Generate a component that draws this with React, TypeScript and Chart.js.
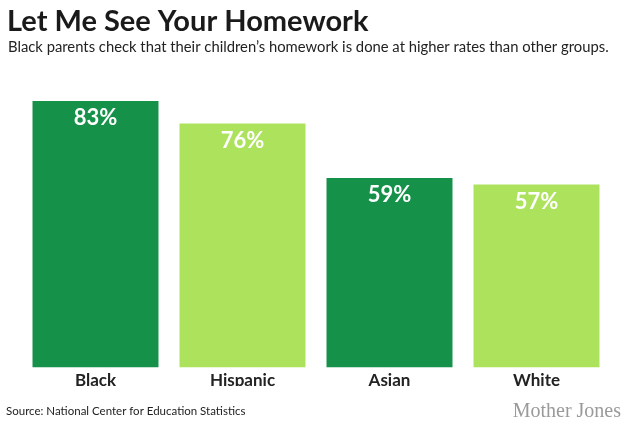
import React, { useEffect, useRef } from "react";
import { Chart, registerables } from "chart.js";

Chart.register(...registerables);

const categories = ["Black", "Hispanic", "Asian", "White"];
const values = [83, 76, 59, 57];
const barColors = ["#16914a", "#ade25d", "#16914a", "#ade25d"];
const titleText = "Let Me See Your Homework";
const subtitleText = "Black parents check that their children\u2019s homework is done at higher rates than other groups.";
const sourceText = "Source: National Center for Education Statistics";
const logoText = "Mother Jones";

const textPlugin = {
  id: "textPlugin",
  afterDatasetsDraw(chart: any) {
    const ctx = chart.ctx;
    const meta = chart.getDatasetMeta(0);
    ctx.save();
    ctx.fillStyle = "#ffffff";
    ctx.font = "bold 22px Lato";
    ctx.textAlign = "center";
    ctx.textBaseline = "middle";
    meta.data.forEach((bar: any, i: number) => {
      ctx.fillText(values[i] + "%", bar.x, bar.y + 17);
    });
    ctx.restore();
  },
  afterDraw(chart: any) {
    const ctx = chart.ctx;
    ctx.save();
    ctx.textBaseline = "alphabetic";
    ctx.textAlign = "left";
    ctx.fillStyle = "#1a1a1a";
    ctx.font = "bold 29px Lato";
    ctx.fillText(titleText, 7, 31);
    ctx.font = "14.8px Lato";
    ctx.fillStyle = "#222";
    ctx.fillText(subtitleText, 8, 52);
    ctx.font = "11.5px Lato";
    ctx.fillText(sourceText, 6, 415);
    ctx.font = "20px 'Liberation Serif'";
    ctx.fillStyle = "#9a9a9a";
    ctx.textAlign = "right";
    ctx.fillText(logoText, 621, 417);
    ctx.restore();
  },
};

export default function App() {
  const ref = useRef<HTMLCanvasElement>(null);
  useEffect(() => {
    document.body.style.margin = "0";
    const chart = new Chart(ref.current!, {
      type: "bar",
      data: {
        labels: categories,
        datasets: [
          {
            data: values,
            backgroundColor: barColors,
            borderWidth: 0,
            barPercentage: 0.857,
            categoryPercentage: 1,
          },
        ],
      },
      options: {
        animation: false,
        responsive: false,
        maintainAspectRatio: false,
        layout: { padding: { top: 101, left: 22, right: 20, bottom: 40 } },
        plugins: { legend: { display: false }, tooltip: { enabled: false }, title: { display: false } },
        scales: {
          x: {
            grid: { display: false },
            border: { display: false },
            ticks: { color: "#222", font: { family: "Lato", size: 17, weight: "bold" }, padding: -5 },
          },
          y: {
            display: false,
            min: 0,
            max: 83,
          },
        },
      },
      plugins: [textPlugin],
    });
    return () => chart.destroy();
  }, []);
  return (
    <div style={{ position: "absolute", left: 0, top: 0, width: 630, height: 426, background: "#fff" }}>
      <canvas ref={ref} width={630} height={426} />
    </div>
  );
}
